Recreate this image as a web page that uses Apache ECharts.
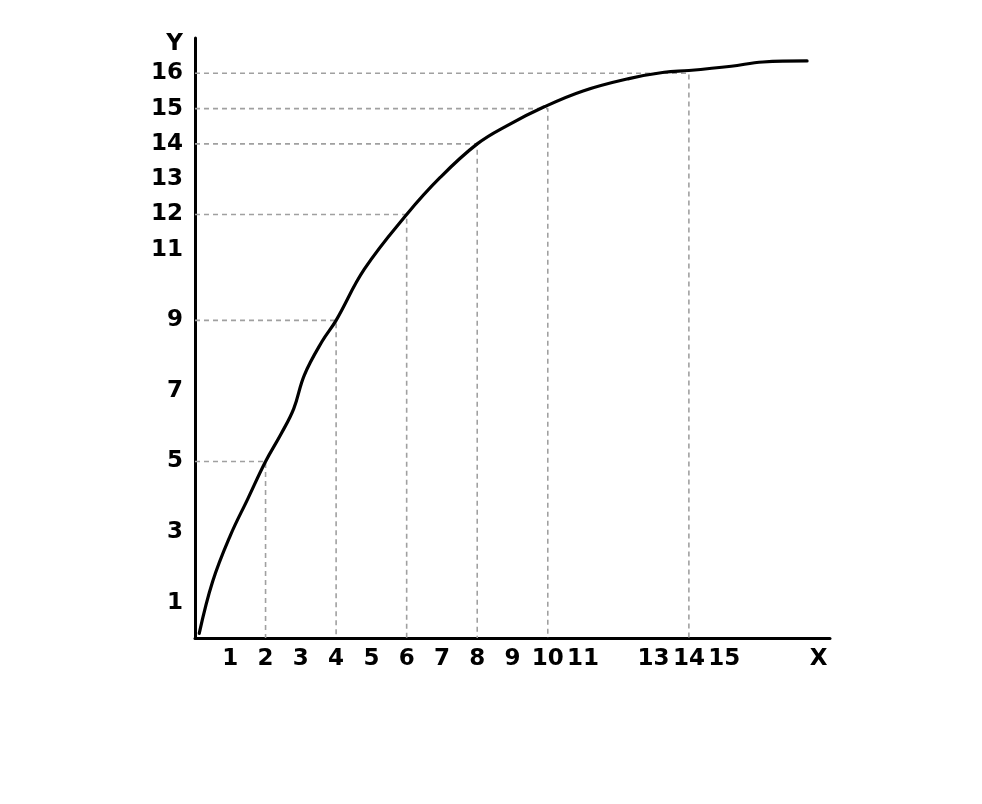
<!DOCTYPE html>
<html>
<head>
<meta charset="utf-8">
<script src="https://cdn.jsdelivr.net/npm/echarts@6/dist/echarts.min.js"></script>
<style>
  html, body { margin: 0; padding: 0; background: #fff; }
  #chart { width: 982px; height: 804px; }
</style>
</head>
<body>
<div id="chart"></div>
<script>
// Curve
const curveX = [0.12, 0.5, 1, 1.5, 2, 2.45, 2.8, 3.1, 3.6, 4, 4.8, 6, 6.95, 8, 8.85, 9.9, 11, 12.3, 13.3, 14, 15.2, 16.1, 17.35];
const curveY = [0.13, 1.6, 2.9, 3.95, 5, 5.8, 6.5, 7.45, 8.4, 9, 10.45, 12, 13.05, 14, 14.52, 15.05, 15.5, 15.85, 16.03, 16.08, 16.2, 16.32, 16.35];

// Dashed guide points
const guideX = [2, 4, 6, 8, 10, 14];
const guideY = [5, 9, 12, 14, 15, 16];

// Tick labels
const xTickValues = [1, 2, 3, 4, 5, 6, 7, 8, 9, 10, 11, 13, 14, 15, 17.68];
const xTickLabels = ['1', '2', '3', '4', '5', '6', '7', '8', '9', '10', '11', '13', '14', '15', 'X'];
const yTickValues = [1, 3, 5, 7, 9, 11, 12, 13, 14, 15, 16, 16.84];
const yTickLabels = ['1', '3', '5', '7', '9', '11', '12', '13', '14', '15', '16', 'Y'];

const chart = echarts.init(document.getElementById('chart'));

const guideSeries = guideX.map((gx, i) => ({
  type: 'line',
  data: [[0, guideY[i]], [gx, guideY[i]], [gx, 0]],
  symbol: 'none',
  silent: true,
  z: 1,
  lineStyle: { color: '#a0a0a0', width: 1.6, type: [5, 4] }
}));

const labelFont = {
  color: '#000',
  fontFamily: 'DejaVu Sans',
  fontWeight: 'bold',
  fontSize: 23
};

chart.setOption({
  animation: false,
  backgroundColor: '#ffffff',
  grid: { left: 195, right: 152, top: 38, bottom: 166, containLabel: false },
  xAxis: {
    type: 'value',
    min: 0,
    max: 18,
    splitLine: { show: false },
    axisTick: { show: false },
    axisLine: { show: true, lineStyle: { color: '#000', width: 3 } },
    axisLabel: Object.assign({
      customValues: xTickValues,
      margin: 10,
      formatter: (v) => {
        const i = xTickValues.indexOf(v);
        return i >= 0 ? xTickLabels[i] : '';
      }
    }, labelFont)
  },
  yAxis: {
    type: 'value',
    min: 0,
    max: 17,
    splitLine: { show: false },
    axisTick: { show: false },
    axisLine: { show: true, lineStyle: { color: '#000', width: 3 } },
    axisLabel: Object.assign({
      customValues: yTickValues,
      margin: 12,
      formatter: (v) => {
        const i = yTickValues.indexOf(v);
        return i >= 0 ? yTickLabels[i] : '';
      }
    }, labelFont)
  },
  series: guideSeries.concat([{
    type: 'line',
    data: curveX.map((x, i) => [x, curveY[i]]),
    symbol: 'none',
    smooth: 0.4,
    z: 5,
    lineStyle: { color: '#000', width: 3.2, cap: 'round' }
  }])
});
</script>
</body>
</html>
